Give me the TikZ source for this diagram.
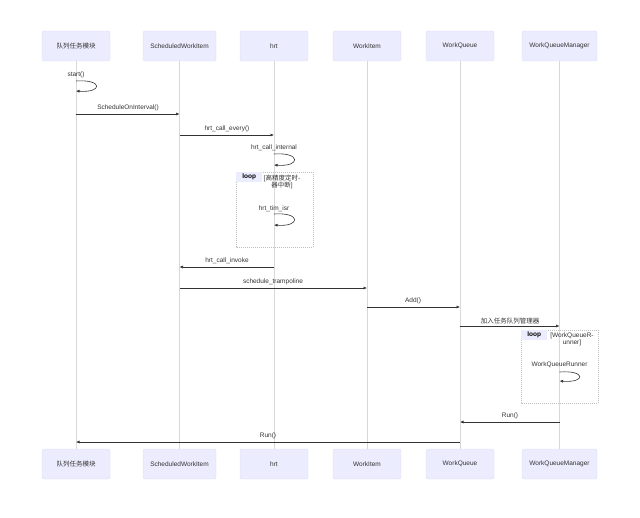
\documentclass[tikz,border=0pt]{standalone}
\usepackage{fontspec}
\setmainfont{Liberation Sans}
\newfontfamily\cjk{Noto Sans CJK SC}
\usetikzlibrary{arrows.meta}
\definecolor{actfill}{HTML}{ECECFF}
\definecolor{actline}{HTML}{DCDCF5}
\definecolor{life}{HTML}{D8D8D8}
\definecolor{msg}{HTML}{333333}
\tikzset{
  actor/.style={draw=actline,fill=actfill,rounded corners=1.5pt,minimum height=30pt,inner sep=0pt,font=\fontsize{6.5}{8}\selectfont,text=black!80},
  lifeline/.style={draw=life,line width=0.5pt},
  msgline/.style={draw=msg,line width=0.6pt,-{Latex[length=3.5pt,width=3pt]}},
  lbl/.style={font=\fontsize{6.5}{8}\selectfont,text=black!80,inner sep=0pt},
  loopbox/.style={draw=black!25,dash pattern=on 1pt off 1pt,line width=0.5pt},
  looptag/.style={fill=actfill,font=\fontsize{6.5}{8}\selectfont\bfseries,inner sep=1pt,anchor=north west,minimum width=26pt,minimum height=10pt},
  cond/.style={font=\fontsize{6.5}{7}\selectfont,align=center,inner sep=0pt,text=black!80}
}
\begin{document}
\begin{tikzpicture}[x=1pt,y=-1pt]
\useasboundingbox (0,0) rectangle (640,518);
\foreach \n/\x/\w/\t in {a/76/68/{\cjk 队列任务模块},b/179.5/73/ScheduledWorkItem,c/274/68/hrt,d/367/68/WorkItem,e/460/68/WorkQueue,f/559.5/75/WorkQueueManager}{
  \node[actor,minimum width=\w pt] (\n t) at (\x,46) {\t};
  \node[actor,minimum width=\w pt] (\n b) at (\x,464) {\t};
  \draw[lifeline] (\n t.south) -- (\n b.north);
}
% loop boxes
\draw[loopbox] (236,172) rectangle (313,247);
\node[looptag] (l1) at (236,172) {loop};
\node[cond] (c1) at (282,182) {[{\cjk 高精度定时-}\\{\cjk 器中断}]};
\draw[loopbox] (521,330) rectangle (598,403);
\node[looptag] (l2) at (521,330) {loop};
\node[cond] (c2) at (572,339) {[WorkQueueR-\\unner]};
% messages
\coordinate (s1) at (76,81); \coordinate (s1e) at (76,91);
\draw[msgline] (s1) .. controls (103,79) and (103,93) .. (s1e);
\node[lbl] (m0) at (76,75) {start()};
\coordinate (a1) at (76,114); \coordinate (b1) at (179.5,114);
\draw[msgline] (a1) -- (b1); \node[lbl] (m1) at (128,108) {ScheduleOnInterval()};
\coordinate (b2) at (179.5,135); \coordinate (c2a) at (274,135);
\draw[msgline] (b2) -- (c2a); \node[lbl] (m2) at (227,129) {hrt\_call\_every()};
\coordinate (s2) at (274,154); \coordinate (s2e) at (274,165);
\draw[msgline] (s2) .. controls (301,152) and (301,167) .. (s2e);
\node[lbl] (m3) at (274,148) {hrt\_call\_internal};
\coordinate (s3) at (274,214); \coordinate (s3e) at (274,225);
\draw[msgline] (s3) .. controls (301,212) and (301,227) .. (s3e);
\node[lbl] (m4) at (274,209) {hrt\_tim\_isr};
\coordinate (c3) at (274,267); \coordinate (b3) at (179.5,267);
\draw[msgline] (c3) -- (b3); \node[lbl] (m5) at (227,261) {hrt\_call\_invoke};
\coordinate (b4) at (179.5,288); \coordinate (d4) at (367,288);
\draw[msgline] (b4) -- (d4); \node[lbl] (m6) at (273,282) {schedule\_trampoline};
\coordinate (d5) at (367,307); \coordinate (e5) at (460,307);
\draw[msgline] (d5) -- (e5); \node[lbl] (m7) at (413,301) {Add()};
\coordinate (e6) at (460,326); \coordinate (f6) at (559.5,326);
\draw[msgline] (e6) -- (f6); \node[lbl] (m8) at (510,321) {\cjk 加入任务队列管理器};
\coordinate (s4) at (559.5,372); \coordinate (s4e) at (559.5,381);
\draw[msgline] (s4) .. controls (586,370) and (586,383) .. (s4e);
\node[lbl] (m9) at (559.5,365) {WorkQueueRunner};
\coordinate (f7) at (559.5,422); \coordinate (e7) at (460,422);
\draw[msgline] (f7) -- (e7); \node[lbl] (m10) at (510,416) {Run()};
\coordinate (e8) at (460,442); \coordinate (a8) at (76,442);
\draw[msgline] (e8) -- (a8); \node[lbl] (m11) at (268,436) {Run()};
\end{tikzpicture}
\end{document}
